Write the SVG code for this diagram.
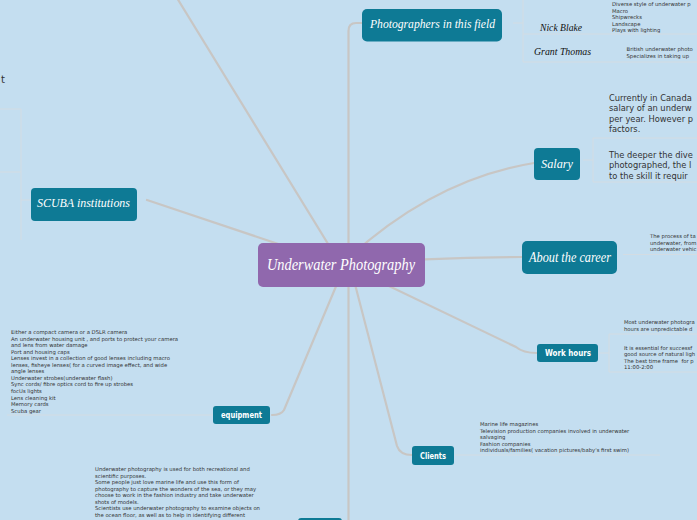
<svg xmlns="http://www.w3.org/2000/svg" width="697" height="520" viewBox="0 0 697 520">
<style>
.bg{fill:#c4def0}
.conn{fill:none;stroke:#c8c6c4;stroke-width:2.2;stroke-linecap:round}
.sub{fill:none;stroke:#d3dce3;stroke-width:1}
.main{fill:#9068ad}
.topic{fill:#0e7a95}
.cur{font-family:"Liberation Serif",serif;font-style:italic;fill:#fff}
.dcur{font-family:"Liberation Serif",serif;font-style:italic;fill:#111}
.bold{font-family:"DejaVu Sans",sans-serif;font-weight:bold;fill:#fff;font-size:8px}
.s{font-family:"DejaVu Sans",sans-serif;font-size:5.3px;fill:#333}
.m{font-family:"DejaVu Sans",sans-serif;font-size:8.3px;fill:#333}
</style>
<rect class="bg" x="0" y="0" width="697" height="520"/>
<g id="connectors">
<path class="conn" d="M341,265 L177,-2"/>
<path class="conn" d="M341,265 L147,200"/>
<path class="conn" d="M348.5,265 V31 Q348.5,23 356,23 H362"/>
<path class="conn" d="M341,265 Q430,180 534,163"/>
<path class="conn" d="M341,265 Q430,257 522,257"/>
<path class="conn" d="M341,263 L516,347 Q523,353 537,353"/>
<path class="conn" d="M350,265 L397,446 Q400,455 412,455"/>
<path class="conn" d="M345,265 L284,410 Q281,415 272,415"/>
<path class="conn" d="M348.5,265 V522"/>
<path class="sub" d="M513,23 H523 M523,-1 V62 M523,34 H697 M523,62 H697"/>
<path class="sub" d="M583,160 H593 M697,138 H593 V182 H697"/>
<path class="sub" d="M623,254.5 H697"/>
<path class="sub" d="M600,353 H609 M697,334 H609 V372 H697"/>
<path class="sub" d="M31,200 H21 M21,109 V240 M0,109 H21 M0,172 H21"/>
<path class="sub" d="M7,415 H213"/>
<path class="sub" d="M455,455 H660"/>
</g>
<g id="root">
<rect class="main" x="258" y="243" width="167" height="44" rx="5"/>
<text class="cur" x="267" y="270" font-size="16" textLength="148" lengthAdjust="spacingAndGlyphs">Underwater Photography</text>
</g>
<g id="photographers">
<rect class="topic" x="362" y="9" width="140" height="32.5" rx="5"/>
<text class="cur" x="370" y="28" font-size="12.5" textLength="125" lengthAdjust="spacingAndGlyphs">Photographers in this field</text>
</g>
<g id="nick-blake">
<text class="dcur" x="540" y="31" font-size="11" textLength="42" lengthAdjust="spacingAndGlyphs">Nick Blake</text>
<text class="s"><tspan x="612" y="6">Diverse style of underwater p</tspan><tspan x="612" y="12.5">Macro</tspan><tspan x="612" y="19">Shipwrecks</tspan><tspan x="612" y="25.5">Landscape</tspan><tspan x="612" y="32">Plays with lighting</tspan></text>
</g>
<g id="grant-thomas">
<text class="dcur" x="534" y="55" font-size="11" textLength="57" lengthAdjust="spacingAndGlyphs">Grant Thomas</text>
<text class="s"><tspan x="626.5" y="51">British underwater photo</tspan><tspan x="626.5" y="57.5">Specializes in taking up</tspan></text>
</g>
<g id="salary">
<rect class="topic" x="534" y="148" width="46" height="32" rx="4"/>
<text class="cur" x="541" y="168" font-size="12" textLength="32" lengthAdjust="spacingAndGlyphs">Salary</text>
<text class="m"><tspan x="609" y="100.5">Currently in Canada</tspan><tspan x="609" y="111">salary of an underw</tspan><tspan x="609" y="121.5">per year. However p</tspan><tspan x="609" y="132">factors.</tspan></text>
<text class="m"><tspan x="609" y="157.5">The deeper the dive</tspan><tspan x="609" y="168">photographed, the l</tspan><tspan x="609" y="178.5">to the skill it requir</tspan></text>
</g>
<g id="about">
<rect class="topic" x="522" y="241" width="95" height="33" rx="5"/>
<text class="cur" x="529" y="262" font-size="14" textLength="82" lengthAdjust="spacingAndGlyphs">About the career</text>
<text class="s"><tspan x="650" y="238">The process of ta</tspan><tspan x="650" y="244.5">underwater, from</tspan><tspan x="650" y="251">underwater vehic</tspan></text>
</g>
<g id="work-hours">
<rect class="topic" x="537" y="344" width="61" height="18" rx="3"/>
<text class="bold" x="545" y="356" textLength="46" lengthAdjust="spacingAndGlyphs">Work hours</text>
<text class="s"><tspan x="624" y="324">Most underwater photogra</tspan><tspan x="624" y="331">hours are unpredictable d</tspan></text>
<text class="s" xml:space="preserve"><tspan x="624" y="349.5">It is essential for successf</tspan><tspan x="624" y="356">good source of natural ligh</tspan><tspan x="624" y="362.5">The best time frame  for p</tspan><tspan x="624" y="369">11:00-2:00</tspan></text>
</g>
<g id="scuba">
<rect class="topic" x="31" y="188" width="106" height="33" rx="4"/>
<text class="cur" x="37" y="207" font-size="12" textLength="93" lengthAdjust="spacingAndGlyphs">SCUBA institutions</text>
<text class="m" x="1" y="83" style="font-size:10px">t</text>
</g>
<g id="equipment">
<rect class="topic" x="213" y="406" width="57" height="18" rx="3"/>
<text class="bold" x="221" y="418" textLength="41" lengthAdjust="spacingAndGlyphs">equipment</text>
<text class="s"><tspan x="11" y="334">Either a compact camera or a DSLR camera</tspan><tspan x="11" y="340.55">An underwater housing unit , and ports to protect your camera</tspan><tspan x="11" y="347.1">and lens from water damage</tspan><tspan x="11" y="353.65">Port and housing caps</tspan><tspan x="11" y="360.2">Lenses invest in a collection of good lenses including macro</tspan><tspan x="11" y="366.75">lenses, fisheye lenses( for a curved image effect, and wide</tspan><tspan x="11" y="373.3">angle lenses</tspan><tspan x="11" y="379.85">Underwater strobes(underwater flash)</tspan><tspan x="11" y="386.4">Sync cords/ fibre optics cord to fire up strobes</tspan><tspan x="11" y="392.95">focUs lights</tspan><tspan x="11" y="399.5">Lens cleaning kit</tspan><tspan x="11" y="406.05">Memory cards</tspan><tspan x="11" y="412.6">Scuba gear</tspan></text>
</g>
<g id="clients">
<rect class="topic" x="412" y="446" width="42" height="19" rx="3"/>
<text class="bold" x="420" y="458.5" textLength="26" lengthAdjust="spacingAndGlyphs">Clients</text>
<text class="s"><tspan x="480" y="426">Marine life magazines</tspan><tspan x="480" y="432.5">Television production companies involved in underwater</tspan><tspan x="480" y="439">salvaging</tspan><tspan x="480" y="445.5">Fashion companies</tspan><tspan x="480" y="452">individuals/families( vacation pictures/baby's first swim)</tspan></text>
</g>
<g id="uses">
<rect class="topic" x="298" y="518" width="44" height="20" rx="3"/>
<text class="s"><tspan x="95" y="471">Underwater photography is used for both recreational and</tspan><tspan x="95" y="477.5">scientific purposes.</tspan><tspan x="95" y="484">Some people just love marine life and use this form of</tspan><tspan x="95" y="490.5">photography to capture the wonders of the sea, or they may</tspan><tspan x="95" y="497">choose to work in the fashion industry and take underwater</tspan><tspan x="95" y="503.5">shots of models.</tspan><tspan x="95" y="510">Scientists use underwater photography to examine objects on</tspan><tspan x="95" y="516.5">the ocean floor, as well as to help in identifying different</tspan></text>
</g>
</svg>
